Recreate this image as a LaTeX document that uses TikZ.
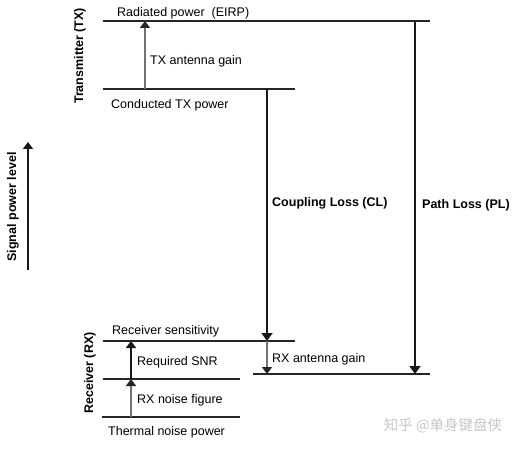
\documentclass[tikz,border=0pt]{standalone}
\usepackage{fontspec}
\setmainfont{Liberation Sans}
\newfontfamily\cjk{Noto Sans CJK SC}
\usetikzlibrary{arrows.meta}
\begin{document}
\begin{tikzpicture}[x=1pt,y=-1pt,
  lvl/.style={draw=black!85, line width=1.2pt},
  lbl/.style={anchor=west, inner sep=0pt, font=\fontsize{12.5}{15}\selectfont},
  blbl/.style={anchor=west, inner sep=0pt, font=\fontsize{12.5}{15}\selectfont\bfseries},
  side/.style={inner sep=0pt, rotate=90, font=\fontsize{12.5}{15}\selectfont\bfseries},
  garrow/.style={draw=black!55, line width=1.4pt, -{Triangle[width=10pt,length=7pt,color=black!85]}},
  karrow/.style={draw=black!90, line width=1.8pt, -{Triangle[width=11pt,length=8pt]}},
  warrow/.style={draw=black!90, line width=1.4pt, -{Triangle[width=10pt,length=7pt]}},
]
\useasboundingbox (0,0) rectangle (519,449);
% level lines
\coordinate (radL) at (103,21);  \coordinate (radR) at (430,21);
\coordinate (conL) at (103,89);  \coordinate (conR) at (295,89);
\coordinate (senL) at (103,341); \coordinate (senR) at (295,341);
\coordinate (snrL) at (103,379); \coordinate (snrR) at (240,379);
\coordinate (thL)  at (102,417); \coordinate (thR)  at (240,417);
\coordinate (rxL)  at (253,374); \coordinate (rxR)  at (430,374);
\draw[lvl] (radL) -- (radR);
\draw[lvl] (conL) -- (conR);
\draw[lvl] (senL) -- (senR);
\draw[lvl] (snrL) -- (snrR);
\draw[lvl] (thL) -- (thR);
\draw[lvl] (rxL) -- (rxR);
% arrow end points
\coordinate (txa) at (145,89);  \coordinate (txb) at (145,21);
\coordinate (cla) at (267,89);  \coordinate (clb) at (267,341);
\coordinate (pla) at (415,21);  \coordinate (plb) at (415,374);
\coordinate (rga) at (267,341); \coordinate (rgb) at (267,374);
\coordinate (sna) at (131,379); \coordinate (snb) at (131,341);
\coordinate (nfa) at (131,417); \coordinate (nfb) at (131,379);
\coordinate (spa) at (28,270);  \coordinate (spb) at (28,142);
\draw[garrow] (txa) -- (txb);
\draw[karrow] (cla) -- (clb);
\draw[karrow] (pla) -- (plb);
\draw[garrow] (rga) -- (rgb);
\draw[warrow] (sna) -- (snb);
\draw[garrow] (nfa) -- (nfb);
\draw[warrow] (spa) -- (spb);
% labels
\node[lbl] (rad) at (117,13) {Radiated power\ \ (EIRP)};
\node[lbl] (txg) at (150,61) {TX antenna gain};
\node[lbl] (con) at (111,105) {Conducted TX power};
\node[blbl] (cl) at (272,203) {Coupling Loss (CL)};
\node[blbl] (pl) at (422,205) {Path Loss (PL)};
\node[lbl] (sen) at (112,331) {Receiver sensitivity};
\node[lbl] (rxg) at (272,359) {RX antenna gain};
\node[lbl] (snr) at (137,362) {Required SNR};
\node[lbl] (nf) at (137,400) {RX noise figure};
\node[lbl] (th) at (108,432) {Thermal noise power};
\node[side] (tx) at (80,56) {Transmitter (TX)};
\node[side] (rx) at (90,373) {Receiver (RX)};
\node[side] (sp) at (13,207) {Signal power level};
\node[inner sep=0pt, text=black!22, font=\cjk\fontsize{14.5}{16}\selectfont] (wm) at (443,426) {知乎 @单身键盘侠};
\end{tikzpicture}
\end{document}
